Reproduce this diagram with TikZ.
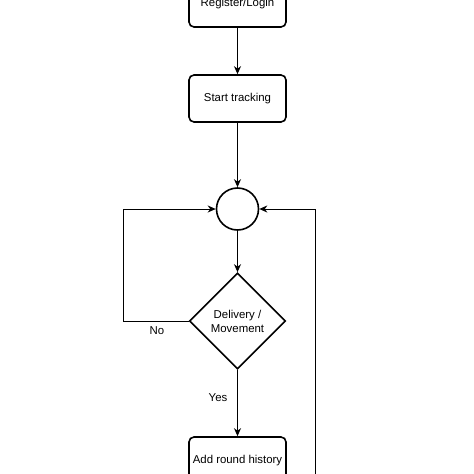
\documentclass[tikz,border=0pt]{standalone}
\usepackage{fontspec}
\setmainfont{Liberation Sans}
\usetikzlibrary{arrows.meta,shapes.geometric}
\begin{document}
\begin{tikzpicture}[x=1pt,y=-1pt,
  font=\fontsize{11.4}{14}\selectfont,
  stepbox/.style={draw,line width=1.6pt,rounded corners=5pt,minimum width=97pt,minimum height=47pt,inner sep=0pt,align=center},
  decision/.style={draw,diamond,line width=1.6pt,minimum width=96pt,minimum height=96pt,inner sep=0pt,align=center},
  junction/.style={draw,circle,line width=1.6pt,minimum size=42pt,inner sep=0pt},
  conn/.style={line width=1pt,-{Stealth[length=8pt,width=7pt,inset=2.5pt]}},
  lbl/.style={inner sep=1pt}]
\clip (0,0) rectangle (474,474);
\fill[white] (0,0) rectangle (474,474);
\node[stepbox] (reg) at (237.5,3.5) {Register/Login};
\node[stepbox] (start) at (237.5,98.5) {Start tracking};
\node[junction] (join) at (237.5,209) {};
\node[decision] (dec) at (237.5,321) {Delivery /\\Movement};
\node[stepbox] (add) at (237.5,460.5) {Add round history};
\coordinate (lc1) at (123,321);
\coordinate (lc2) at (123,209);
\coordinate (rc1) at (315,490);
\coordinate (rc2) at (315,209);
\draw[conn] (reg) -- (start);
\draw[conn] (start) -- (join);
\draw[conn] (join) -- (dec);
\draw[conn] (dec) -- (add);
\draw[conn] (dec.west) -- (lc1) -- (lc2) -- (join.west);
\draw[conn] (rc1) -- (rc2) -- (join.east);
\node[lbl] (no) at (157,331) {No};
\node[lbl] (yes) at (218,398) {Yes};
\end{tikzpicture}
\end{document}
